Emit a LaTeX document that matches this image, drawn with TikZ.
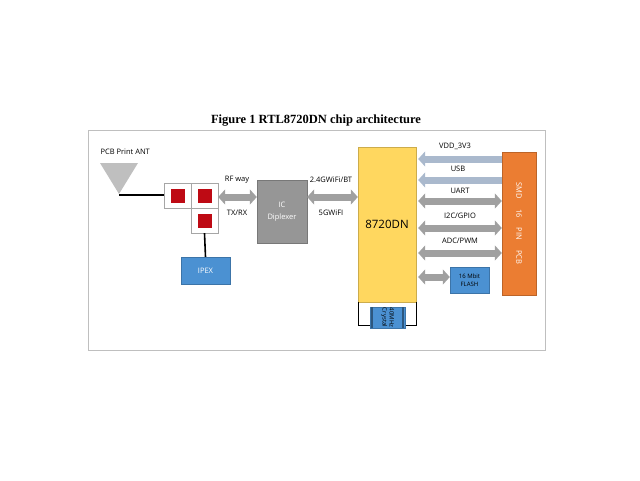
\documentclass[tikz,border=0pt]{standalone}
\usepackage{fontspec}
\setmainfont{Liberation Serif}
\setsansfont{Open Sans}
\usetikzlibrary{arrows.meta}
\definecolor{grayb}{RGB}{150,150,150}
\definecolor{arrg}{RGB}{160,160,160}
\definecolor{arrb}{RGB}{170,185,205}
\definecolor{yel}{RGB}{255,215,95}
\definecolor{ora}{RGB}{235,125,50}
\definecolor{blu}{RGB}{75,145,210}
\definecolor{redd}{RGB}{190,10,20}
\begin{document}
\begin{tikzpicture}[x=1pt,y=-1pt,
  lbl/.style={font=\sffamily\fontsize{7.5}{9}\selectfont},
  blk/.style={draw=#1!80!black,fill=#1,inner sep=0pt},
  dbl/.style={draw=arrg,line width=7pt,{Triangle[length=7pt,width=15pt]}-{Triangle[length=7pt,width=15pt]}},
  sgl/.style={draw=arrb,line width=7pt,{Triangle[length=7pt,width=15pt]}-},
  wire/.style={draw=black,line width=1.6pt}]
\useasboundingbox (0,0) rectangle (640,480);
\node[font=\bfseries\fontsize{12.5}{14}\selectfont] (title) at (316,121) {Figure 1 RTL8720DN chip architecture};
\draw[gray!50] (88,130) rectangle (545,350);
% antenna
\node[lbl,anchor=west] (antl) at (97,152) {PCB Print ANT};
\fill[gray!50] (100,163) -- (138,163) -- (119,194) -- cycle;
\coordinate (ant) at (119,195);
% red squares
\node[draw=gray!70,minimum width=27pt,minimum height=25pt,inner sep=0pt] (s1) at (177.5,195.5) {};
\node[draw=gray!70,minimum width=27pt,minimum height=25pt,inner sep=0pt] (s2) at (204.5,195.5) {};
\node[draw=gray!70,minimum width=27pt,minimum height=25pt,inner sep=0pt] (s3) at (204.5,220.5) {};
\foreach \n in {s1,s2,s3}{\fill[redd] (\n.center) ++(-7,-7) rectangle ++(14,14);}
\draw[wire] (ant) -- (ant -| s1.west);
\node[blk=blu,minimum width=49pt,minimum height=27pt,lbl,text=white] (ipex) at (205.5,270.5) {IPEX};
\draw[wire] (s3.south) -- (ipex.north);
% diplexer
\node[blk=grayb,minimum width=50pt,minimum height=63pt,lbl,text=white,align=center] (dip) at (282,211.5) {IC\\[3pt]Diplexer};
\draw[dbl] (s2.east |- 0,197) -- (dip.west |- 0,197);
\node[lbl] (rfw) at (237,180) {RF way};
\node[lbl] (txrx) at (237,213) {TX/RX};
% 8720
\node[blk=yel,minimum width=58pt,minimum height=155pt,font=\sffamily\fontsize{11.5}{13}\selectfont] (chip) at (387,224.5) {8720DN};
\draw[dbl] (dip.east |- 0,197) -- (chip.west |- 0,197);
\node[lbl] (wifi) at (331,180) {2.4GWiFi/BT};
\node[lbl] (wifi5) at (331,213) {5GWiFI};
% crystal
\draw[black] (chip.south west) -- ++(0,23) -| (chip.south east);
\node[blk=blu,minimum width=35pt,minimum height=21pt,inner sep=0pt] (xtal) at (387.5,317.5) {};
\node[rotate=-90,font=\sffamily\fontsize{6}{7}\selectfont,align=center] (xt) at (xtal.center) {40MHz\\Crystal};
\draw[blu!60!black,line width=2pt] (372,307) -- (372,328) (403,307) -- (403,328);
% orange
\node[blk=ora,minimum width=34pt,minimum height=143pt] (smd) at (519,223.5) {};
\node[rotate=-90,lbl,text=white] (smdt) at (smd.center) {SMD\hspace{10pt}16\hspace{10pt}PIN\hspace{10pt}PCB};
% interface arrows
\draw[sgl] (chip.east |- 0,159) ++(2,0) -- (smd.west |- 0,159);
\draw[sgl] (chip.east |- 0,180) ++(2,0) -- (smd.west |- 0,180);
\draw[dbl] (chip.east |- 0,201) ++(2,0) -- (smd.west |- 0,201);
\draw[dbl] (chip.east |- 0,228) ++(2,0) -- (smd.west |- 0,228);
\draw[dbl] (chip.east |- 0,253) ++(2,0) -- (smd.west |- 0,253);
\node[lbl] (l1) at (455,146) {VDD\_3V3};
\node[lbl] (l2) at (458,169) {USB};
\node[lbl] (l3) at (460,191) {UART};
\node[lbl] (l4) at (460,216) {I2C/GPIO};
\node[lbl] (l5) at (460,241) {ADC/PWM};
\node[blk=blu,minimum width=39pt,minimum height=26pt,align=center,font=\sffamily\fontsize{6}{8}\selectfont] (flash) at (469.5,280) {16 Mbit\\FLASH};
\draw[dbl] (chip.east |- 0,277) ++(2,0) -- (flash.west |- 0,277);
\end{tikzpicture}
\end{document}
